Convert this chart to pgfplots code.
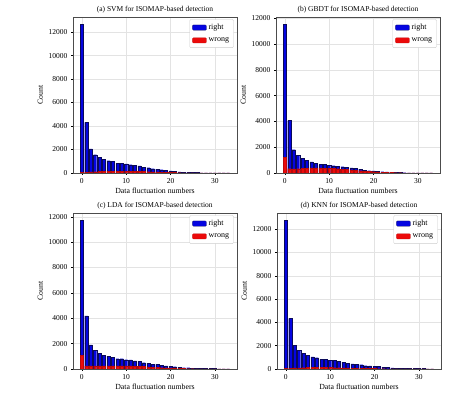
\documentclass[border=0pt]{standalone}
\usepackage{fontspec}
\setmainfont{Liberation Serif}
\usepackage{pgfplots}
\pgfplotsset{compat=1.18}
\definecolor{barblue}{RGB}{5,5,225}
\definecolor{baredge}{RGB}{10,10,90}
\definecolor{barred}{RGB}{235,10,10}
\pgfplotsset{
  panel/.style={
    scale only axis, width=164pt, height=156pt, anchor=south west,
    xmin=-2, xmax=35, ymin=0,
    xtick={0,10,20,30},
    ytick={0,2000,4000,6000,8000,10000,12000},
    /pgf/number format/assume math mode=true,
    /pgf/number format/set thousands separator={},
    scaled y ticks=false,
    tick align=outside, major tick length=2pt,
    tick style={black, line width=0.4pt},
    xtick pos=bottom, ytick pos=left,
    grid=major, grid style={gray!22, line width=0.4pt},
    axis line style={gray!60!black, line width=0.6pt},
    tick label style={font=\fontsize{7.5}{9}\selectfont},
    label style={font=\fontsize{7.8}{9}\selectfont},
    title style={font=\fontsize{7.5}{9}\selectfont, yshift=-6pt},
    xlabel={Data fluctuation numbers}, ylabel={Count},
    xlabel style={yshift=2pt}, ylabel style={yshift=-1pt},
    legend style={at={(0.98,0.985)}, anchor=north east, draw=gray!40,
      font=\fontsize{8}{9}\selectfont, rounded corners=1pt,
      row sep=2.5pt, inner sep=2.5pt, cells={anchor=west}},
    legend image code/.code={\fill[##1] (0pt,-2.6pt) rectangle (14pt,2.6pt);},
  },
  rightbar/.style={ybar, bar width=0.7, bar shift=0pt, fill=barblue, draw=baredge, line width=0.3pt},
  wrongbar/.style={ybar, bar width=0.7, bar shift=0pt, fill=barred, draw=barred!80!black, line width=0.2pt},
}
\begin{document}
\begin{tikzpicture}
\path[use as bounding box] (0,0) rectangle (474pt,404pt);
% (a) SVM
\begin{axis}[panel, at={(73pt,231pt)}, ymax=13283, title={(a) SVM for ISOMAP-based detection}]
\addplot[rightbar, fill=barblue] coordinates {(0,12650) (1,4320) (2,2050) (3,1560) (4,1340) (5,1170) (6,1050) (7,970) (8,820) (9,850) (10,770) (11,710) (12,680) (13,600) (14,480) (15,450) (16,370) (17,340) (18,280) (19,200) (20,170) (21,140) (22,90) (23,60) (24,60) (25,50) (26,30) (27,20) (28,15) (29,10) (30,8) (31,5) (32,3) (33,2)};
\addlegendentry{right}
\addplot[wrongbar, fill=barred] coordinates {(0,60) (1,80) (2,100) (3,110) (4,130) (5,140) (6,150) (7,150) (8,150) (9,150) (10,150) (11,140) (12,140) (13,130) (14,120) (15,110) (16,100) (17,90) (18,70) (19,60) (20,50) (21,40) (22,30) (23,20) (24,20) (25,15) (26,10) (27,5) (28,4) (29,3) (30,2) (31,1) (32,1) (33,1)};
\addlegendentry{wrong}
\end{axis}
% (b) GBDT
\begin{axis}[panel, at={(276pt,231pt)}, ymax=12107, title={(b) GBDT for ISOMAP-based detection}]
\addplot[rightbar, fill=barblue] coordinates {(0,11530) (1,4070) (2,1810) (3,1350) (4,1140) (5,960) (6,860) (7,730) (8,650) (9,650) (10,600) (11,570) (12,540) (13,490) (14,440) (15,390) (16,340) (17,310) (18,230) (19,180) (20,160) (21,130) (22,100) (23,80) (24,60) (25,50) (26,30) (27,20) (28,15) (29,10) (30,8) (31,5) (32,3) (33,2)};
\addlegendentry{right}
\addplot[wrongbar, fill=barred] coordinates {(0,1200) (1,330) (2,320) (3,330) (4,360) (5,380) (6,400) (7,400) (8,390) (9,380) (10,370) (11,350) (12,330) (13,300) (14,270) (15,240) (16,210) (17,180) (18,150) (19,120) (20,100) (21,80) (22,60) (23,50) (24,40) (25,30) (26,20) (27,12) (28,8) (29,5) (30,4) (31,3) (32,2) (33,1)};
\addlegendentry{wrong}
\end{axis}
% (c) LDA
\begin{axis}[panel, at={(73pt,35pt)}, ymax=12296, title={(c) LDA for ISOMAP-based detection}]
\addplot[rightbar, fill=barblue] coordinates {(0,11710) (1,4190) (2,1910) (3,1490) (4,1260) (5,1100) (6,1020) (7,940) (8,810) (9,810) (10,730) (11,710) (12,650) (13,600) (14,500) (15,470) (16,390) (17,370) (18,290) (19,240) (20,210) (21,180) (22,130) (23,100) (24,100) (25,60) (26,50) (27,40) (28,40) (29,30) (30,30) (31,10) (32,5) (33,3)};
\addlegendentry{right}
\addplot[wrongbar, fill=barred] coordinates {(0,1100) (1,250) (2,240) (3,240) (4,250) (5,250) (6,250) (7,250) (8,250) (9,250) (10,240) (11,240) (12,230) (13,220) (14,190) (15,170) (16,150) (17,130) (18,110) (19,90) (20,80) (21,60) (22,50) (23,40) (24,30) (25,20) (26,15) (27,10) (28,10) (29,8) (30,6) (31,3) (32,2) (33,1)};
\addlegendentry{wrong}
\end{axis}
% (d) KNN
\begin{axis}[panel, at={(277pt,35pt)}, ymax=13377, title={(d) KNN for ISOMAP-based detection}]
\addplot[rightbar, fill=barblue] coordinates {(0,12740) (1,4350) (2,2020) (3,1590) (4,1360) (5,1170) (6,1050) (7,970) (8,850) (9,850) (10,740) (11,740) (12,680) (13,600) (14,510) (15,430) (16,400) (17,370) (18,280) (19,260) (20,230) (21,230) (22,170) (23,140) (24,90) (25,60) (26,50) (27,50) (28,40) (29,40) (30,30) (31,30) (32,5) (33,3)};
\addlegendentry{right}
\addplot[wrongbar, fill=barred] coordinates {(0,50) (1,70) (2,90) (3,100) (4,110) (5,120) (6,120) (7,120) (8,120) (9,120) (10,120) (11,110) (12,110) (13,100) (14,90) (15,80) (16,70) (17,60) (18,50) (19,40) (20,35) (21,30) (22,25) (23,20) (24,15) (25,10) (26,8) (27,6) (28,5) (29,4) (30,3) (31,2) (32,1) (33,1)};
\addlegendentry{wrong}
\end{axis}
\end{tikzpicture}
\end{document}
